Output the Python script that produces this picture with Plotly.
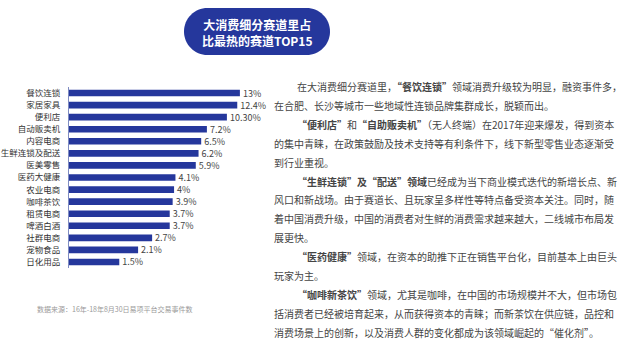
import plotly.graph_objects as go

# ---- data ----
categories = ["餐饮连锁", "家居家具", "便利店", "自动贩卖机", "内容电商", "生鲜连锁及配送",
              "医美零售", "医药大健康", "农业电商", "咖啡茶饮", "租赁电商", "啤酒白酒",
              "社群电商", "宠物食品", "日化用品"]
values = [13, 12.4, 10.30, 7.2, 6.5, 6.2, 5.9, 4.1, 4, 3.9, 3.7, 3.7, 2.7, 2.1, 1.5]
value_labels = ["13%", "12.4%", "10.30%", "7.2%", "6.5%", "6.2%", "5.9%", "4.1%", "4%",
                "3.9%", "3.7%", "3.7%", "2.7%", "2.1%", "1.5%"]

title_lines = ["大消费细分赛道里占", "比最热的赛道TOP15"]
source_text = "数据来源：16年-18年8月30日易项平台交易事件数"

body_lines = [
    (True, "在大消费细分赛道里，<b>“餐饮连锁”</b>领域消费升级较为明显，融资事件多，"),
    (False, "在合肥、长沙等城市一些地域性连锁品牌集群成长，脱颖而出。"),
    (True, "<b>“便利店”</b>和<b>“自助贩卖机”</b>（无人终端）在2017年迎来爆发，得到资本"),
    (False, "的集中青睐，在政策鼓励及技术支持等有利条件下，线下新型零售业态逐渐受"),
    (False, "到行业重视。"),
    (True, "<b>“生鲜连锁”及“配送”领域</b>已经成为当下商业模式迭代的新增长点、新"),
    (False, "风口和新战场。由于赛道长、且玩家呈多样性等特点备受资本关注。同时，随"),
    (False, "着中国消费升级，中国的消费者对生鲜的消费需求越来越大，二线城市布局发"),
    (False, "展更快。"),
    (True, "<b>“医药健康”</b>领域，在资本的助推下正在销售平台化，目前基本上由巨头"),
    (False, "玩家为主。"),
    (True, "<b>“咖啡新茶饮”</b>领域，尤其是咖啡，在中国的市场规模并不大，但市场包"),
    (False, "括消费者已经被培育起来，从而获得资本的青睐；而新茶饮在供应链，品控和"),
    (False, "消费场景上的创新，以及消费人群的变化都成为该领域崛起的“催化剂”。"),
]

# ---- layout geometry ----
W, H = 630, 363
ML, MR, MT, MB = 69, 360, 87, 95
PW, PH = W - ML - MR, H - MT - MB
FONT = "Noto Sans CJK SC"
BLUE = "#25379c"


def px(x):
    return (x - ML) / PW


def py(y):
    return 1 - (y - MT) / PH


fig = go.Figure()
fig.add_trace(go.Bar(
    x=values, y=categories, orientation="h",
    marker=dict(color=BLUE, line=dict(width=0)),
    text=value_labels, textposition="outside", cliponaxis=False,
    constraintext="none",
    textfont=dict(family=FONT, size=9, color="#444"),
    width=0.55,
))

# title pill (stadium shape)
x0, x1, y0, y1 = 184, 330, 8, 55
r = (y1 - y0) / 2
yc = (y0 + y1) / 2
k = 0.5523 * r
pts = [
    ("M", [(x0 + r, y0)]),
    ("L", [(x1 - r, y0)]),
    ("C", [(x1 - r + k, y0), (x1, yc - k), (x1, yc)]),
    ("C", [(x1, yc + k), (x1 - r + k, y1), (x1 - r, y1)]),
    ("L", [(x0 + r, y1)]),
    ("C", [(x0 + r - k, y1), (x0, yc + k), (x0, yc)]),
    ("C", [(x0, yc - k), (x0 + r - k, y0), (x0 + r, y0)]),
]
path = ""
for cmd, ps in pts:
    path += cmd + " " + " ".join(f"{px(a):.5f},{py(b):.5f}" for a, b in ps) + " "
path += "Z"
fig.add_shape(type="path", path=path, xref="paper", yref="paper",
              fillcolor=BLUE, line=dict(width=0), layer="above")

ann = []
ann.append(dict(text="<br>".join(f"<b>{t}</b>" for t in title_lines),
                x=px(257), y=py(32.5), xref="paper", yref="paper",
                xanchor="center", yanchor="middle", showarrow=False, align="center",
                font=dict(family=FONT, size=12, color="white")))

ann.append(dict(text=source_text, x=px(35), y=py(309), xref="paper", yref="paper",
                xanchor="left", yanchor="middle", showarrow=False,
                font=dict(family=FONT, size=7, color="#9a9a9a")))

for i, (indent, t) in enumerate(body_lines):
    ann.append(dict(text=t, x=px(295 if indent else 272), y=py(86.7 + i * 18.87),
                    xref="paper", yref="paper", xanchor="left", yanchor="middle",
                    showarrow=False, font=dict(family=FONT, size=10, color="#444")))

fig.update_layout(
    width=W, height=H,
    margin=dict(l=ML, r=MR, t=MT, b=MB, pad=0, autoexpand=False),
    paper_bgcolor="white", plot_bgcolor="white",
    showlegend=False,
    bargap=0.45,
    annotations=ann,
    xaxis=dict(type="log", range=[-0.215, -0.215 + PW / 128.6], visible=False,
               fixedrange=True, automargin=False),
    yaxis=dict(autorange="reversed", showline=True, linecolor="#7f8cc2", linewidth=1,
               ticks="", ticklabelstandoff=6, showgrid=False, zeroline=False,
               automargin=False, fixedrange=True,
               tickfont=dict(family=FONT, size=8.5, color="#333")),
)

fig.write_html(
    "out.html",
    config={"displayModeBar": False},
    post_script="document.body.style.margin='0';document.body.style.padding='0';",
)
